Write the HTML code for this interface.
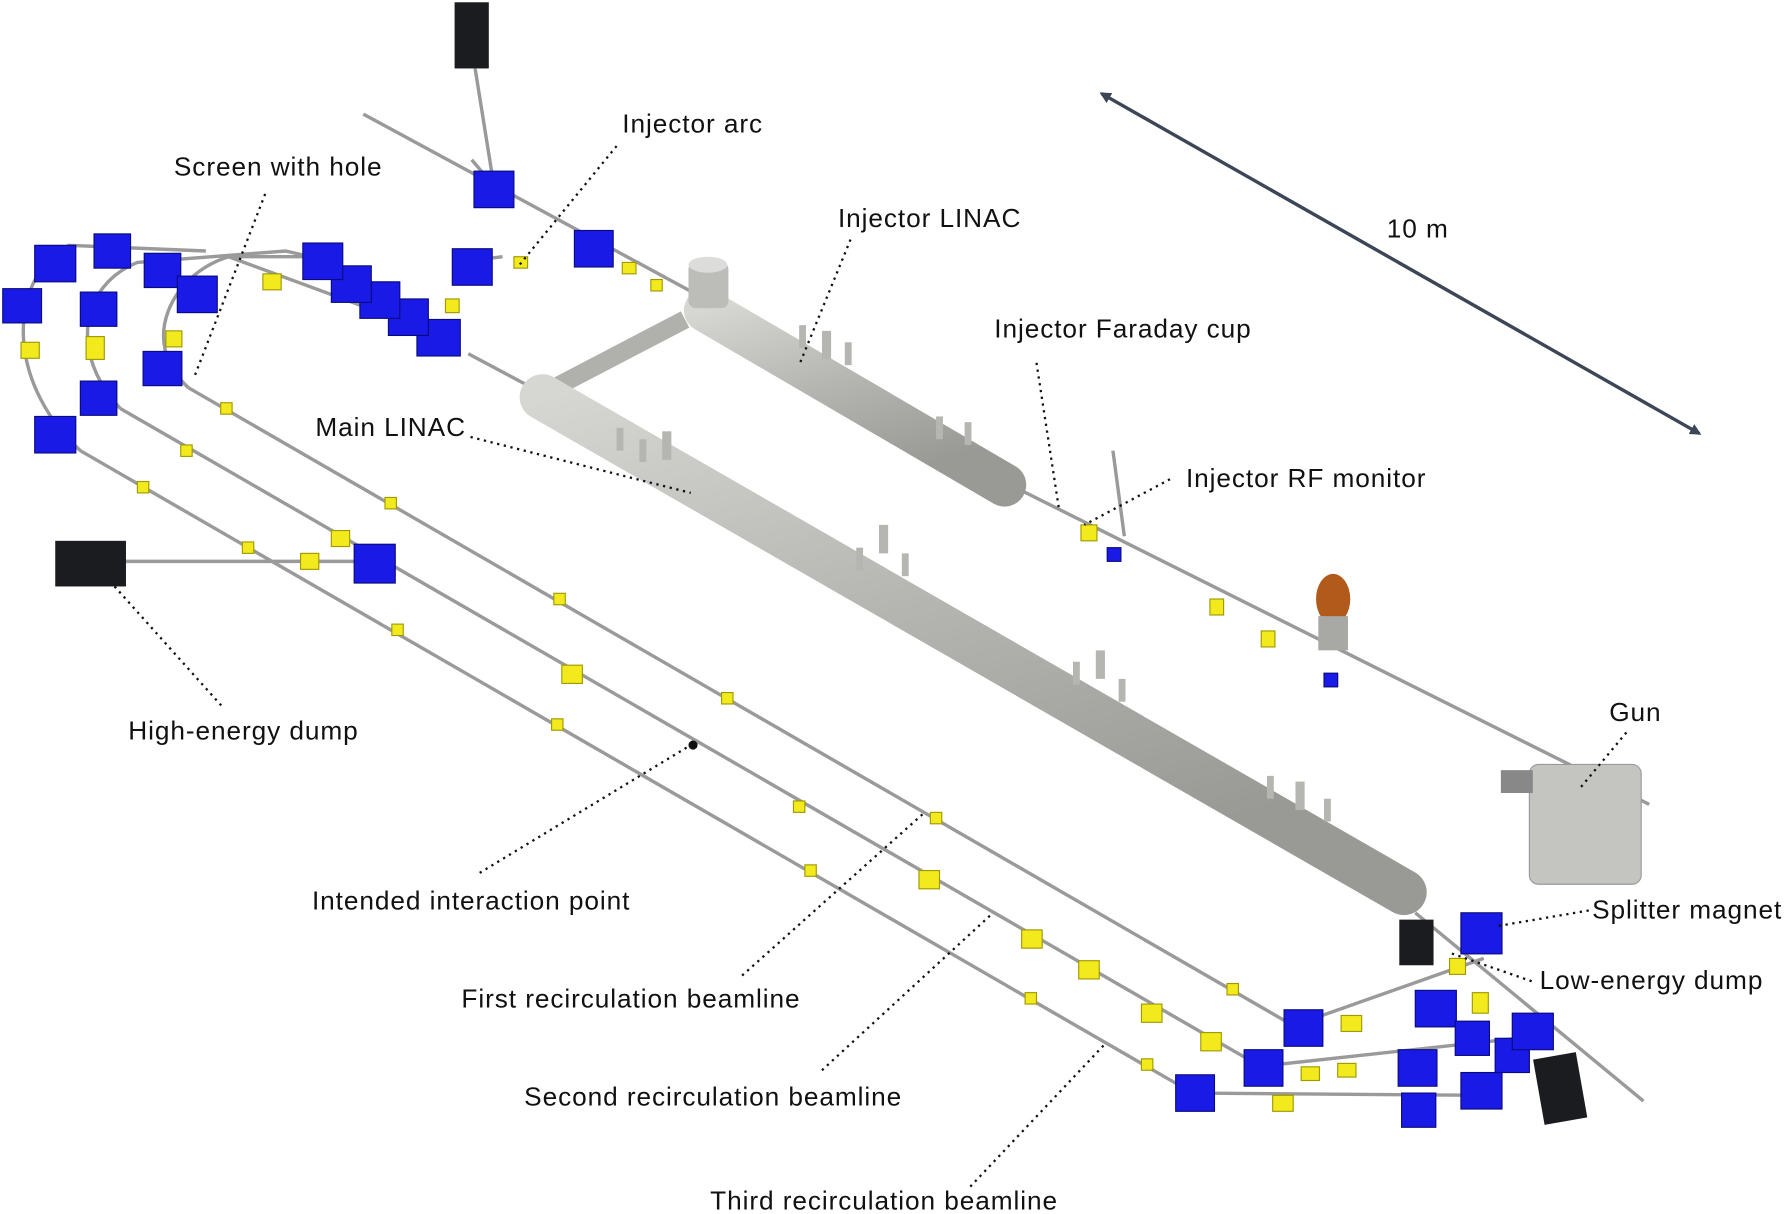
<!DOCTYPE html>
<html><head><meta charset="utf-8"><style>
html,body{margin:0;padding:0;background:#fff;}
svg{display:block;}
text{font-family:"Liberation Sans",sans-serif;font-size:23px;letter-spacing:0.8px;fill:#111;}
</style></head><body>
<svg width="1790" height="1214" viewBox="0 0 1568 1064" xmlns="http://www.w3.org/2000/svg">
<defs>
<linearGradient id="cyl" x1="0" y1="0" x2="0.5" y2="1">
<stop offset="0" stop-color="#d6d6d3"/><stop offset="0.5" stop-color="#b5b5b2"/><stop offset="1" stop-color="#999996"/></linearGradient>
<marker id="ah" markerWidth="10" markerHeight="10" refX="8" refY="5" orient="auto-start-reverse" markerUnits="userSpaceOnUse">
<path d="M0,0 L10,5 L0,10 Z" fill="#3c4656"/></marker>
</defs>

<line x1="965" y1="82" x2="1489" y2="380" stroke="#3c4656" stroke-width="3" marker-start="url(#ah)" marker-end="url(#ah)"/>
<text x="1215" y="208">10 m</text>

<g stroke="#9a9a9a" stroke-width="3" fill="none">
<line x1="318" y1="100" x2="610" y2="258"/>
<line x1="895" y1="430" x2="1445" y2="705"/>
<line x1="413" y1="140" x2="430" y2="160"/>
<line x1="410" y1="310" x2="470" y2="342"/>
<line x1="165" y1="340" x2="1135" y2="900"/>
<line x1="105" y1="358" x2="1105" y2="935"/>
<line x1="70" y1="395" x2="1045" y2="958"/>
<line x1="110" y1="492" x2="330" y2="492"/>
<line x1="1240" y1="800" x2="1440" y2="965"/>
<line x1="1130" y1="900" x2="1300" y2="840"/>
<line x1="1100" y1="935" x2="1330" y2="910"/>
<line x1="1045" y1="958" x2="1300" y2="960"/>
<path d="M165 340 C120 300 150 240 200 225 L270 225"/>
<path d="M105 358 C60 310 70 250 120 230 L250 220 C300 230 350 260 400 300"/>
<path d="M70 395 C0 330 10 240 60 215 L180 220"/>
<line x1="200" y1="225" x2="390" y2="295"/>
<line x1="400" y1="230" x2="440" y2="225"/>
<line x1="975" y1="395" x2="985" y2="470"/>
</g>

<rect x="398" y="2" width="30" height="58" fill="#1a1c20"/>
<line x1="416" y1="60" x2="432" y2="160" stroke="#999" stroke-width="3"/>
<rect x="48" y="474" width="62" height="40" fill="#1a1c20"/>
<rect x="1226" y="806" width="30" height="40" fill="#1a1c20"/>
<rect x="1348" y="925" width="38" height="58" fill="#1a1c20" transform="rotate(-10 1367 954)"/>

<line x1="618" y1="272" x2="880" y2="425" stroke="url(#cyl)" stroke-width="38" stroke-linecap="round"/>
<line x1="600" y1="280" x2="485" y2="340" stroke="#b0b0ad" stroke-width="16"/>
<rect x="603" y="230" width="35" height="40" rx="6" fill="#bcbcb9"/>
<ellipse cx="620" cy="232" rx="17" ry="7" fill="#dcdcda"/>
<line x1="475" y1="348" x2="1230" y2="782" stroke="url(#cyl)" stroke-width="40" stroke-linecap="round"/>
<g fill="#b5b5b2">
<rect x="540" y="375" width="6" height="20"/><rect x="560" y="385" width="6" height="20"/><rect x="580" y="378" width="8" height="25"/>
<rect x="750" y="480" width="6" height="20"/><rect x="770" y="460" width="8" height="25"/><rect x="790" y="485" width="6" height="20"/>
<rect x="940" y="580" width="6" height="20"/><rect x="960" y="570" width="8" height="25"/><rect x="980" y="595" width="6" height="20"/>
<rect x="1110" y="680" width="6" height="20"/><rect x="1135" y="685" width="8" height="25"/><rect x="1160" y="700" width="6" height="20"/>
<rect x="700" y="285" width="6" height="20"/><rect x="720" y="290" width="8" height="25"/><rect x="740" y="300" width="6" height="20"/>
<rect x="820" y="365" width="6" height="20"/><rect x="845" y="370" width="6" height="20"/>
</g>

<rect x="1340" y="670" width="98" height="105" rx="8" fill="#c4c4c1" stroke="#999"/>
<rect x="1315" y="675" width="28" height="20" fill="#888"/>
<ellipse cx="1168" cy="525" rx="15" ry="22" fill="#b25a1c"/>
<rect x="1155" y="540" width="26" height="30" fill="#a8a8a5"/>

<g fill="#1a1ae6" stroke="#0a0a80" stroke-width="1">
<rect x="415" y="150" width="35" height="32"/><rect x="503" y="202" width="34" height="32"/>
<rect x="396" y="218" width="35" height="32"/><rect x="365" y="280" width="38" height="32"/>
<rect x="340" y="262" width="35" height="32"/><rect x="315" y="247" width="35" height="32"/>
<rect x="290" y="233" width="35" height="32"/><rect x="265" y="213" width="35" height="32"/>
<rect x="82" y="205" width="32" height="30"/><rect x="30" y="215" width="36" height="32"/>
<rect x="2" y="253" width="34" height="30"/><rect x="70" y="256" width="32" height="30"/>
<rect x="126" y="222" width="32" height="30"/><rect x="155" y="242" width="35" height="32"/>
<rect x="125" y="308" width="34" height="30"/><rect x="70" y="334" width="32" height="30"/>
<rect x="30" y="365" width="36" height="32"/><rect x="310" y="477" width="36" height="34"/>
<rect x="1280" y="800" width="36" height="36"/><rect x="1125" y="885" width="34" height="32"/>
<rect x="1240" y="868" width="36" height="32"/><rect x="1275" y="895" width="30" height="30"/>
<rect x="1310" y="910" width="30" height="30"/><rect x="1325" y="888" width="36" height="32"/>
<rect x="1090" y="920" width="34" height="32"/><rect x="1225" y="920" width="34" height="32"/>
<rect x="1030" y="942" width="34" height="32"/><rect x="1280" y="940" width="36" height="32"/>
<rect x="1228" y="958" width="30" height="30"/>
<rect x="970" y="480" width="12" height="12"/><rect x="1160" y="590" width="12" height="12"/>
</g>

<g fill="#f2ea1c" stroke="#a09a00" stroke-width="1">
<rect x="18" y="300" width="16" height="14"/><rect x="75" y="295" width="16" height="20"/>
<rect x="145" y="290" width="14" height="14"/><rect x="230" y="240" width="16" height="14"/>
<rect x="390" y="262" width="12" height="12"/><rect x="450" y="225" width="12" height="10"/>
<rect x="545" y="230" width="12" height="10"/><rect x="570" y="245" width="10" height="10"/>
<rect x="120" y="422" width="10" height="10"/><rect x="158" y="390" width="10" height="10"/>
<rect x="193" y="353" width="10" height="10"/><rect x="212" y="475" width="10" height="10"/>
<rect x="263" y="485" width="16" height="14"/><rect x="290" y="465" width="16" height="14"/>
<rect x="337" y="436" width="10" height="10"/><rect x="343" y="547" width="10" height="10"/>
<rect x="485" y="520" width="10" height="10"/><rect x="492" y="583" width="18" height="16"/>
<rect x="483" y="630" width="10" height="10"/><rect x="632" y="607" width="10" height="10"/>
<rect x="695" y="702" width="10" height="10"/><rect x="705" y="758" width="10" height="10"/>
<rect x="815" y="712" width="10" height="10"/><rect x="805" y="763" width="18" height="16"/>
<rect x="895" y="815" width="18" height="16"/><rect x="945" y="842" width="18" height="16"/>
<rect x="898" y="870" width="10" height="10"/><rect x="1000" y="880" width="18" height="16"/>
<rect x="1000" y="928" width="10" height="10"/><rect x="1052" y="905" width="18" height="16"/>
<rect x="1075" y="862" width="10" height="10"/><rect x="1175" y="890" width="18" height="14"/>
<rect x="1140" y="935" width="16" height="12"/><rect x="1172" y="932" width="16" height="12"/>
<rect x="1115" y="960" width="18" height="14"/><rect x="1270" y="840" width="14" height="14"/>
<rect x="1290" y="870" width="14" height="18"/><rect x="947" y="460" width="14" height="14"/>
<rect x="1060" y="525" width="12" height="14"/><rect x="1105" y="553" width="12" height="14"/>
</g>

<g stroke="#111" stroke-width="2" stroke-dasharray="2 4" fill="none">
<line x1="540" y1="128" x2="455" y2="232"/>
<line x1="232" y1="170" x2="170" y2="330"/>
<line x1="745" y1="210" x2="700" y2="320"/>
<line x1="908" y1="318" x2="928" y2="448"/>
<line x1="1025" y1="420" x2="950" y2="460"/>
<line x1="412" y1="383" x2="605" y2="432"/>
<line x1="100" y1="514" x2="195" y2="620"/>
<line x1="420" y1="765" x2="605" y2="653"/>
<line x1="650" y1="855" x2="810" y2="712"/>
<line x1="720" y1="938" x2="870" y2="800"/>
<line x1="850" y1="1040" x2="968" y2="915"/>
<line x1="1425" y1="642" x2="1385" y2="690"/>
<line x1="1392" y1="798" x2="1310" y2="812"/>
<line x1="1342" y1="860" x2="1270" y2="835"/>
</g>
<circle cx="607" cy="653" r="4" fill="#111"/>

<text x="545" y="116">Injector arc</text>
<text x="152" y="154">Screen with hole</text>
<text x="734" y="199">Injector LINAC</text>
<text x="871" y="296">Injector Faraday cup</text>
<text x="1039" y="427">Injector RF monitor</text>
<text x="276" y="382">Main LINAC</text>
<text x="112" y="648">High-energy dump</text>
<text x="1410" y="632">Gun</text>
<text x="273" y="797">Intended interaction point</text>
<text x="1395" y="805">Splitter magnet</text>
<text x="1349" y="867">Low-energy dump</text>
<text x="404" y="883">First recirculation beamline</text>
<text x="459" y="969">Second recirculation beamline</text>
<text x="622" y="1060">Third recirculation beamline</text>
</svg>
</body></html>
